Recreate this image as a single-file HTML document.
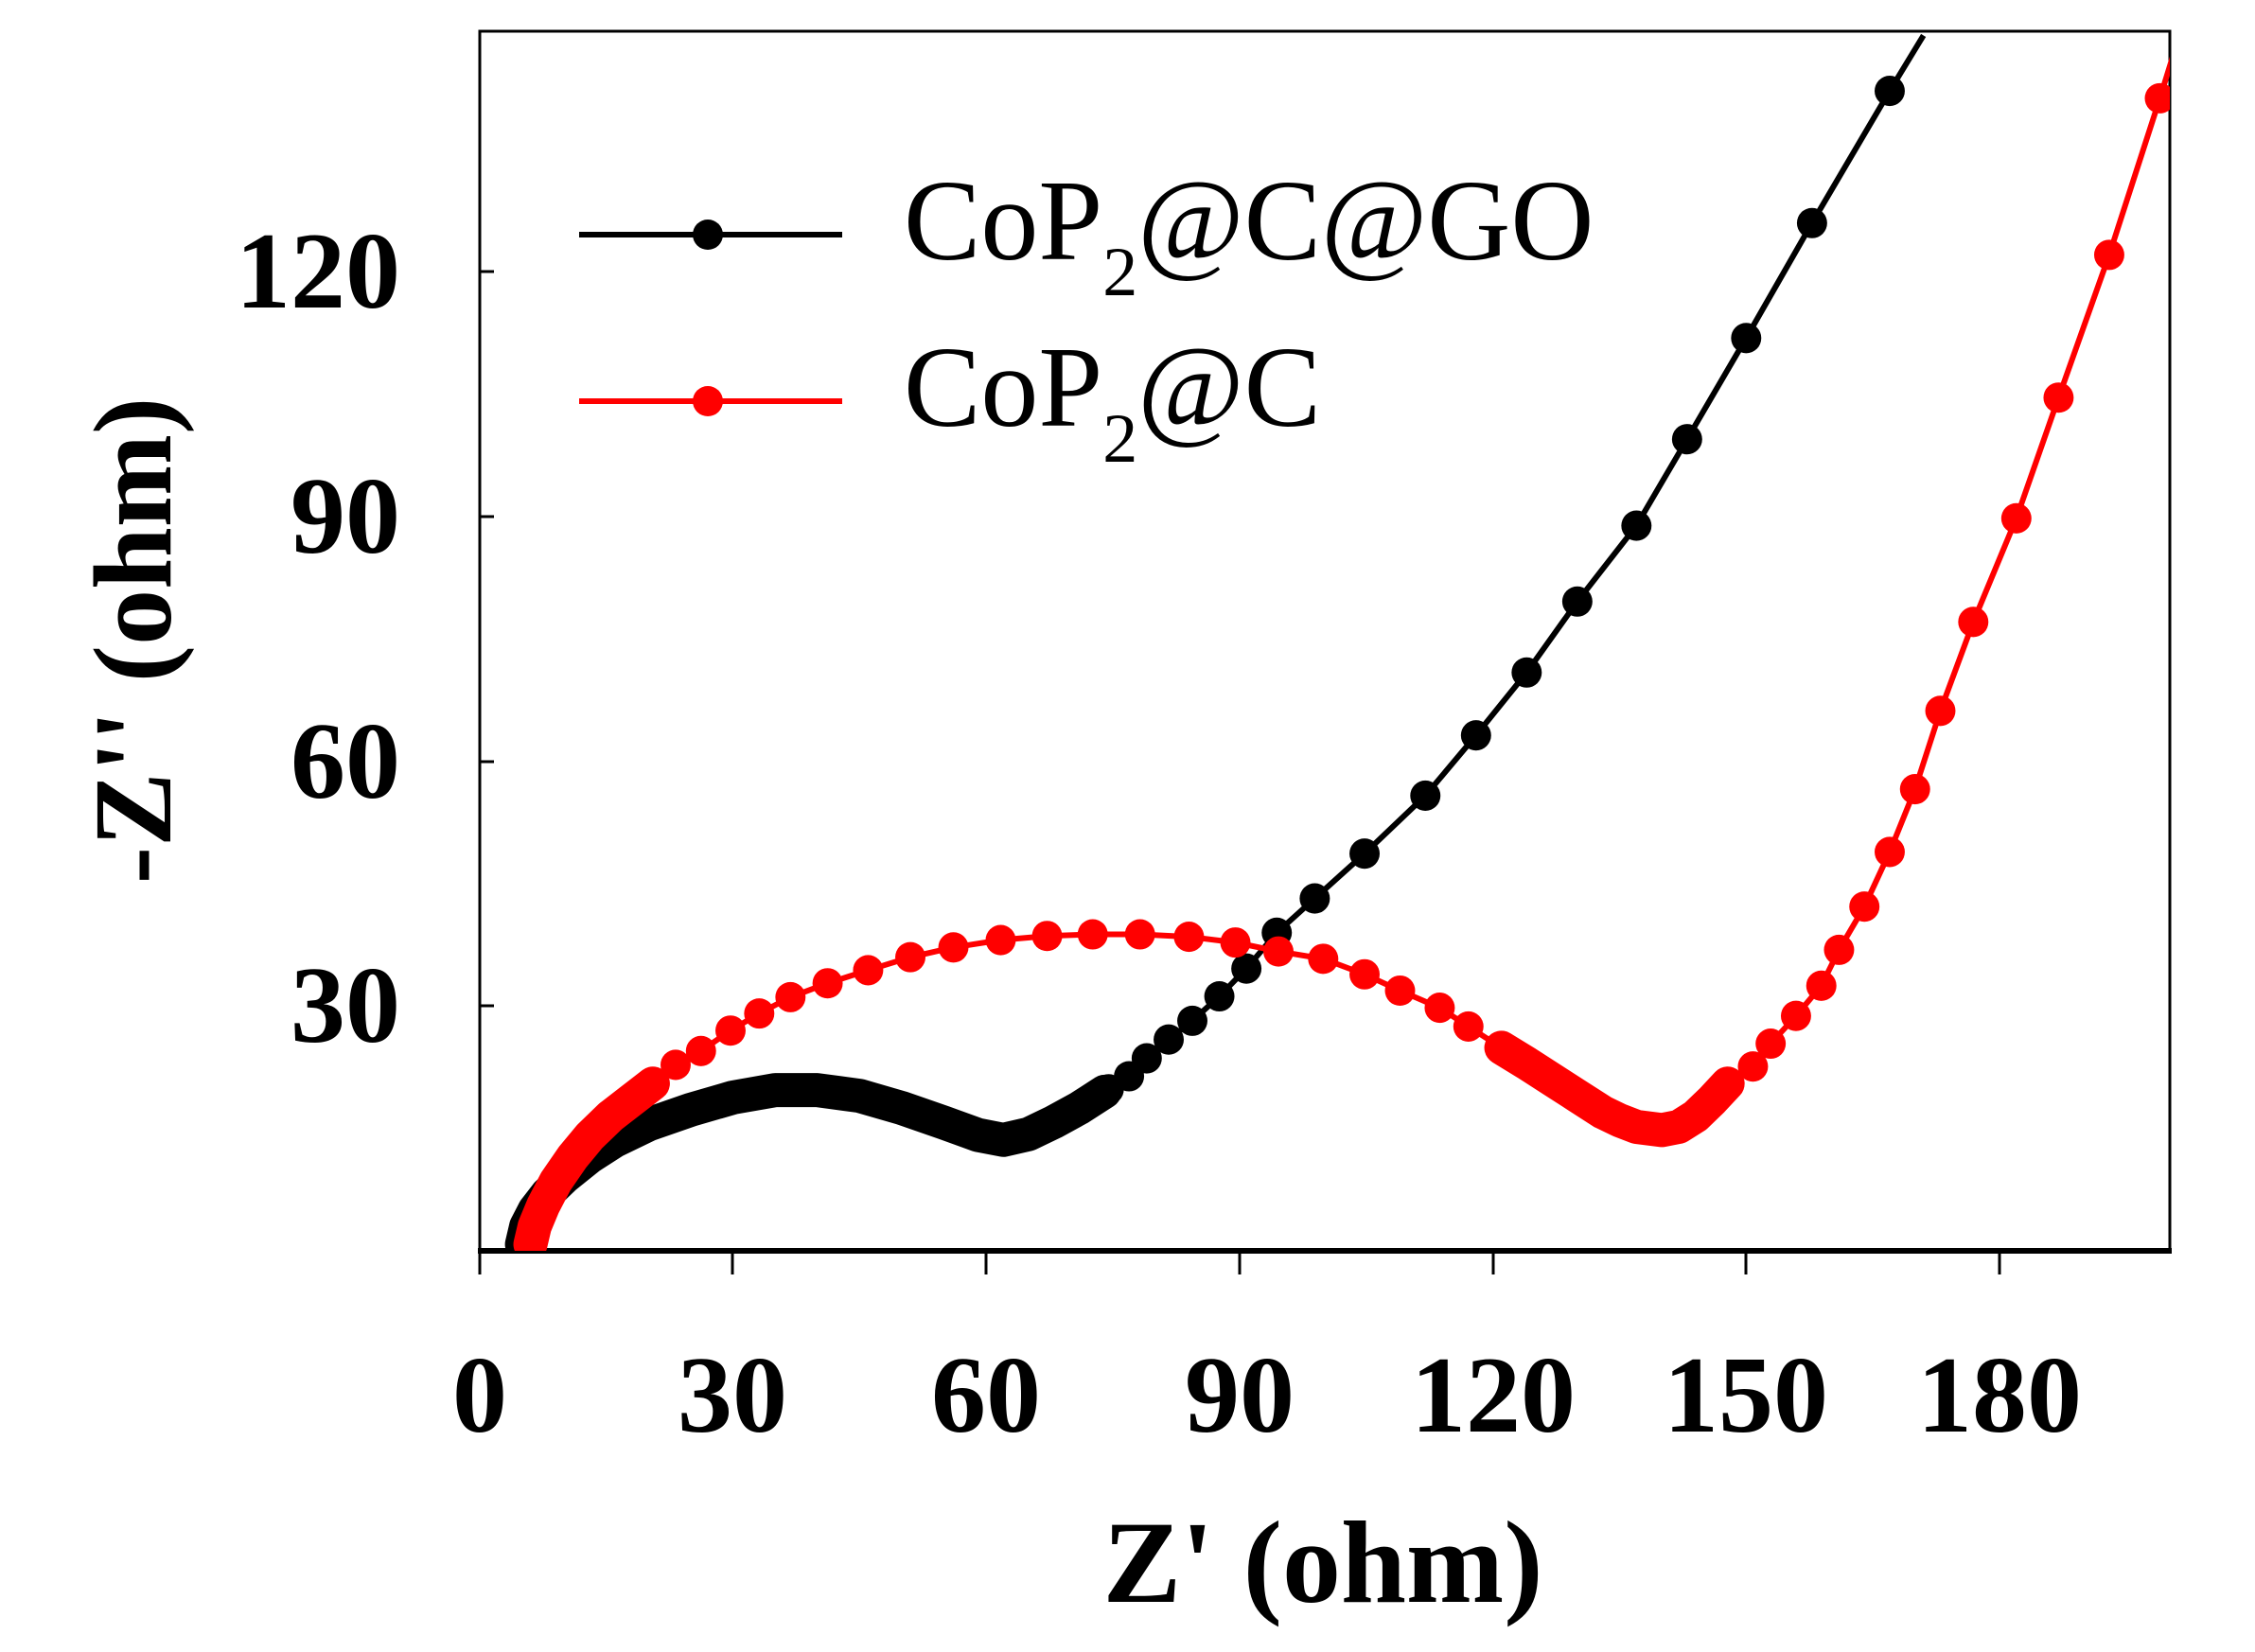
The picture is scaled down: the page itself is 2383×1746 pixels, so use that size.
<!DOCTYPE html>
<html><head><meta charset="utf-8"><style>
html,body{margin:0;padding:0;background:#fff;}
svg{display:block;}
text{font-family:"Liberation Serif",serif;fill:#000;}
</style></head><body>
<svg width="2383" height="1746" viewBox="0 0 2383 1746" xmlns="http://www.w3.org/2000/svg">
<defs><clipPath id="c"><rect x="507" y="33" width="1786" height="1289"/></clipPath></defs>
<rect x="507" y="33" width="1786" height="1289" fill="none" stroke="#000" stroke-width="3"/>
<line x1="505" y1="1322" x2="2295" y2="1322" stroke="#000" stroke-width="6"/>
<g stroke="#000" stroke-width="3">
<line x1="507" y1="1322" x2="507" y2="1347"/>
<line x1="774" y1="1322" x2="774" y2="1347"/>
<line x1="1042" y1="1322" x2="1042" y2="1347"/>
<line x1="1310" y1="1322" x2="1310" y2="1347"/>
<line x1="1578" y1="1322" x2="1578" y2="1347"/>
<line x1="1845" y1="1322" x2="1845" y2="1347"/>
<line x1="2113" y1="1322" x2="2113" y2="1347"/>
<line x1="507" y1="1063" x2="522" y2="1063"/>
<line x1="507" y1="805" x2="522" y2="805"/>
<line x1="507" y1="546" x2="522" y2="546"/>
<line x1="507" y1="287" x2="522" y2="287"/>
</g>
<g font-size="116" font-weight="bold" text-anchor="middle">
<text x="507" y="1513">0</text>
<text x="774" y="1513">30</text>
<text x="1042" y="1513">60</text>
<text x="1310" y="1513">90</text>
<text x="1578" y="1513">120</text>
<text x="1845" y="1513">150</text>
<text x="2113" y="1513">180</text>
</g>
<g font-size="116" font-weight="bold" text-anchor="end">
<text x="423" y="1101">30</text>
<text x="423" y="843">60</text>
<text x="423" y="584">90</text>
<text x="423" y="325">120</text>
</g>
<text x="1398" y="1693" font-size="124" font-weight="bold" text-anchor="middle">Z' (ohm)</text>
<text transform="translate(180,677) rotate(-90)" font-size="118" font-weight="bold" text-anchor="middle">-Z'' (ohm)</text>
<line x1="612" y1="248" x2="890" y2="248" stroke="#000" stroke-width="6"/>
<circle cx="748" cy="248" r="16" fill="#000"/>
<line x1="612" y1="424" x2="890" y2="424" stroke="#f00" stroke-width="6"/>
<circle cx="748" cy="424" r="16" fill="#f00"/>
<text x="955" y="274" font-size="122">CoP<tspan font-size="74" dy="38">2</tspan><tspan dy="-38">@C@GO</tspan></text>
<text x="955" y="450" font-size="122">CoP<tspan font-size="74" dy="38">2</tspan><tspan dy="-38">@C</tspan></text>
<g clip-path="url(#c)">
<g transform="translate(507,1322) scale(8.922,-8.621)">
<g fill="#000" stroke="#000">
<polyline fill="none" vector-effect="non-scaling-stroke" stroke-width="6" points="74.5,19.8 76.9,21.4 79,23.6 81.6,25.9 84.4,28.2 87.6,31.2 90.8,34.6 94.4,39 98.9,43.2 104.8,48.7 112,55.8 118,63.2 124,70.9 130,79.6 137,88.9 143,99.5 150,111.9 157.8,126 167,142.2 171,149"/>
<polyline fill="none" vector-effect="non-scaling-stroke" stroke-width="36" stroke-linecap="round" stroke-linejoin="round" points="5,0.8 5.5,3 6.5,5 8,7 10,9 13,11.5 16,13.5 20,15.5 25,17.3 30,18.8 35,19.7 40,19.7 45,19 50,17.5 55,15.7 59,14.2 62,13.6 65,14.3 68,15.8 71,17.5 74,19.5"/>
<g stroke="none">
<ellipse cx="74.5" cy="19.8" rx="1.79" ry="1.86"/><ellipse cx="76.9" cy="21.4" rx="1.79" ry="1.86"/><ellipse cx="79" cy="23.6" rx="1.79" ry="1.86"/><ellipse cx="81.6" cy="25.9" rx="1.79" ry="1.86"/><ellipse cx="84.4" cy="28.2" rx="1.79" ry="1.86"/><ellipse cx="87.6" cy="31.2" rx="1.79" ry="1.86"/><ellipse cx="90.8" cy="34.6" rx="1.79" ry="1.86"/><ellipse cx="94.4" cy="39" rx="1.79" ry="1.86"/><ellipse cx="98.9" cy="43.2" rx="1.79" ry="1.86"/><ellipse cx="104.8" cy="48.7" rx="1.79" ry="1.86"/><ellipse cx="112" cy="55.8" rx="1.79" ry="1.86"/><ellipse cx="118" cy="63.2" rx="1.79" ry="1.86"/><ellipse cx="124" cy="70.9" rx="1.79" ry="1.86"/><ellipse cx="130" cy="79.6" rx="1.79" ry="1.86"/><ellipse cx="137" cy="88.9" rx="1.79" ry="1.86"/><ellipse cx="143" cy="99.5" rx="1.79" ry="1.86"/><ellipse cx="150" cy="111.9" rx="1.79" ry="1.86"/><ellipse cx="157.8" cy="126" rx="1.79" ry="1.86"/><ellipse cx="167" cy="142.2" rx="1.79" ry="1.86"/>
</g></g>
<g fill="#f00" stroke="#f00">
<polyline fill="none" vector-effect="non-scaling-stroke" stroke-width="6" points="20.5,20.5 23.2,22.8 26.2,24.5 29.7,27 33.1,29.1 36.8,31.1 41.2,32.8 46,34.4 51,36 56.1,37.2 61.7,38.1 67.2,38.6 72.6,38.8 78.2,38.8 84,38.5 89.5,37.8 94.6,36.7 99.9,35.8 104.8,33.9 109,31.9 113.7,29.8 117.1,27.5 121,24.9"/>
<polyline fill="none" vector-effect="non-scaling-stroke" stroke-width="6" points="147.8,20.5 150.8,22.6 152.9,25.4 155.9,28.8 158.9,32.5 161,36.9 164,42.2 167,48.9 170,56.6 173,66.2 176.9,77.1 182,89.8 187,104.6 193,122.1 199,141.3 201,148"/>
<polyline fill="none" vector-effect="non-scaling-stroke" stroke-width="36" stroke-linecap="round" stroke-linejoin="round" points="6,0.8 6.5,3 7.5,5.5 9,8.5 11,11.5 13,14 15.5,16.5 18,18.5 20.5,20.5"/>
<polyline fill="none" vector-effect="non-scaling-stroke" stroke-width="36" stroke-linecap="round" stroke-linejoin="round" points="121,24.9 124,23 127,21 130,19 133,17 135,16 137,15.2 140,14.8 142,15.2 144,16.5 146,18.5 147.8,20.5"/>
<g stroke="none">
<ellipse cx="23.2" cy="22.8" rx="1.79" ry="1.86"/><ellipse cx="26.2" cy="24.5" rx="1.79" ry="1.86"/><ellipse cx="29.7" cy="27" rx="1.79" ry="1.86"/><ellipse cx="33.1" cy="29.1" rx="1.79" ry="1.86"/><ellipse cx="36.8" cy="31.1" rx="1.79" ry="1.86"/><ellipse cx="41.2" cy="32.8" rx="1.79" ry="1.86"/><ellipse cx="46" cy="34.4" rx="1.79" ry="1.86"/><ellipse cx="51" cy="36" rx="1.79" ry="1.86"/><ellipse cx="56.1" cy="37.2" rx="1.79" ry="1.86"/><ellipse cx="61.7" cy="38.1" rx="1.79" ry="1.86"/><ellipse cx="67.2" cy="38.6" rx="1.79" ry="1.86"/><ellipse cx="72.6" cy="38.8" rx="1.79" ry="1.86"/><ellipse cx="78.2" cy="38.8" rx="1.79" ry="1.86"/><ellipse cx="84" cy="38.5" rx="1.79" ry="1.86"/><ellipse cx="89.5" cy="37.8" rx="1.79" ry="1.86"/><ellipse cx="94.6" cy="36.7" rx="1.79" ry="1.86"/><ellipse cx="99.9" cy="35.8" rx="1.79" ry="1.86"/><ellipse cx="104.8" cy="33.9" rx="1.79" ry="1.86"/><ellipse cx="109" cy="31.9" rx="1.79" ry="1.86"/><ellipse cx="113.7" cy="29.8" rx="1.79" ry="1.86"/><ellipse cx="117.1" cy="27.5" rx="1.79" ry="1.86"/><ellipse cx="121" cy="24.9" rx="1.79" ry="1.86"/>
<ellipse cx="150.8" cy="22.6" rx="1.79" ry="1.86"/><ellipse cx="152.9" cy="25.4" rx="1.79" ry="1.86"/><ellipse cx="155.9" cy="28.8" rx="1.79" ry="1.86"/><ellipse cx="158.9" cy="32.5" rx="1.79" ry="1.86"/><ellipse cx="161" cy="36.9" rx="1.79" ry="1.86"/><ellipse cx="164" cy="42.2" rx="1.79" ry="1.86"/><ellipse cx="167" cy="48.9" rx="1.79" ry="1.86"/><ellipse cx="170" cy="56.6" rx="1.79" ry="1.86"/><ellipse cx="173" cy="66.2" rx="1.79" ry="1.86"/><ellipse cx="176.9" cy="77.1" rx="1.79" ry="1.86"/><ellipse cx="182" cy="89.8" rx="1.79" ry="1.86"/><ellipse cx="187" cy="104.6" rx="1.79" ry="1.86"/><ellipse cx="193" cy="122.1" rx="1.79" ry="1.86"/><ellipse cx="199" cy="141.3" rx="1.79" ry="1.86"/>
</g></g>
</g>
</g>
</svg>
</body></html>
